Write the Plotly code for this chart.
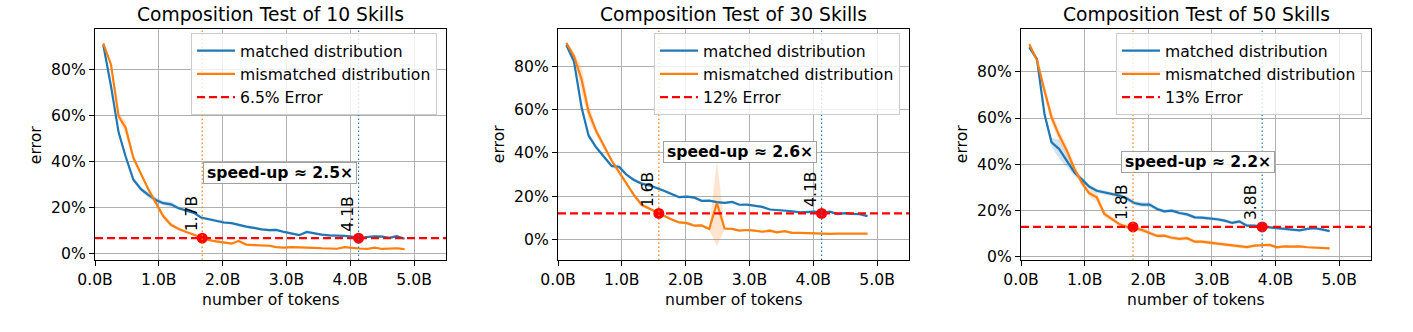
import numpy as np
import plotly.graph_objects as go

# ---------------- data ----------------
tokens_b = [0.13, 0.25, 0.37, 0.48, 0.60, 0.72, 0.84, 0.96, 1.07, 1.19,
            1.31, 1.43, 1.55, 1.66, 1.78, 1.90, 2.02, 2.14, 2.25, 2.37,
            2.49, 2.61, 2.73, 2.84, 2.96, 3.08, 3.20, 3.32, 3.43, 3.55,
            3.67, 3.79, 3.91, 4.02, 4.14, 4.26, 4.38, 4.50, 4.61, 4.73, 4.85]

skills = [10, 30, 50]

# error in percent
matched_10 = [90.5, 72.7, 52.5, 42, 32, 27.8, 25.2, 23, 21.7, 21.2,
              19.5, 18.5, 17.5, 15.5, 14.8, 14, 13.3, 13, 12.2, 11.5,
              11, 10.3, 10, 10.1, 9.2, 8.6, 7.8, 9.2, 8.5, 8,
              7.7, 7.7, 7.5, 7.2, 6.5, 7, 7.3, 7.2, 6.6, 7.4, 6.2]
mismatched_10 = [91.2, 82, 59.5, 54.5, 41.5, 34.5, 27.5, 21.5, 16, 12.3,
                 10.5, 9.2, 8, 6.7, 5.7, 5.1, 4.6, 4.1, 5.3, 3.7,
                 3.5, 3.4, 3.2, 2.6, 2.4, 2.6, 2.6, 2.5, 2.3, 2.1,
                 1.9, 1.9, 2.6, 2.2, 2.0, 1.8, 2.4, 1.8, 1.8, 2.1, 1.7]
matched_30 = [90, 82.5, 61, 48, 42.5, 38, 34, 33.5, 30, 27.5,
              25.8, 25, 23.8, 22.5, 21, 19.5, 19.8, 19.3, 17.8, 17.9,
              17.2, 16.9, 17.3, 16, 16.1, 15.5, 15, 13.8, 13.6, 13.3,
              13, 12.5, 12.5, 12.8, 12.3, 12.8, 11.7, 12.1, 11.8, 11.6, 10.7]
mismatched_30 = [91, 85, 74, 59, 50, 43, 36.5, 31, 26, 20.5,
                 16, 14.2, 12.5, 11, 9.2, 7.8, 7.5, 6.3, 6.4, 4.8,
                 16.8, 5.0, 4.8, 4.0, 4.3, 4.0, 3.5, 4.0, 3.2, 3.8,
                 3.0, 3.0, 2.8, 2.6, 2.5, 2.5, 2.6, 2.6, 2.7, 2.6, 2.6]
matched_50 = [90.5, 85.5, 61.5, 49.5, 46.6, 41.6, 36.5, 33.4, 30.4, 28.6,
              27.9, 27.2, 26.5, 25.3, 23.3, 22.6, 22.6, 20.7, 19.7, 20,
              19, 18.4, 17.1, 17, 16.7, 16.3, 15.7, 14.7, 15.4, 13.5,
              13.5, 13, 12.8, 12.5, 12.2, 11.8, 11.5, 12.1, 12.4, 11.9, 11.2]
mismatched_50 = [91.9, 85, 71.8, 60.3, 52.4, 45.9, 38, 31.9, 27.6, 25.8,
                 18.6, 16.4, 14.1, 13, 12.4, 11.7, 10.4, 9.1, 9.2, 8.3,
                 7.8, 8.1, 6.6, 6.6, 6.2, 5.8, 5.5, 5, 4.7, 4.3,
                 4.9, 5.2, 5.2, 4.2, 4.6, 4.5, 4.6, 4.2, 4, 3.9, 3.7]

# standard deviation (percent) -> shaded bands
matched_10_std = [0.5, 1.0, 1.0, 1.0, 1.0, 1.0, 1.2, 1.2, 1.0, 1.2,
                  0.8, 0.6, 0.6, 0.6, 0.6, 0.6, 0.6, 0.5, 0.6, 0.6,
                  0.6, 0.5, 0.6, 0.6, 0.5, 0.5, 0.5, 0.6, 0.5, 0.5,
                  0.5, 0.4, 0.4, 0.4, 0.4, 0.5, 0.4, 0.4, 0.4, 0.5, 0.4]
mismatched_10_std = [0.5, 0.8, 1.5, 3.0, 1.5, 1.2, 1.0, 1.2, 1.2, 1.0,
                     0.8, 0.6, 0.6, 0.5, 0.5, 0.5, 0.5, 0.5, 0.4, 0.4,
                     0.5, 0.4, 0.4, 0.4, 0.4, 0.4, 0.4, 0.4, 0.4, 0.3,
                     0.3, 0.3, 0.4, 0.3, 0.3, 0.3, 0.3, 0.3, 0.3, 0.3, 0.3]
matched_30_std = [0.5, 2.0, 1.5, 1.2, 0.8, 0.8, 0.8, 1.2, 0.8, 0.8,
                  0.7, 0.7, 0.7, 0.6, 0.6, 0.6, 0.6, 0.6, 0.5, 0.5,
                  0.5, 0.5, 0.5, 0.5, 0.5, 0.5, 0.5, 0.5, 0.5, 0.5,
                  0.5, 0.5, 0.5, 0.5, 0.5, 0.6, 0.5, 0.5, 0.5, 0.5, 0.5]
mismatched_30_std = [0.5, 1.5, 6.0, 4.0, 2.0, 1.5, 1.2, 1.0, 1.0, 0.8,
                     0.8, 0.8, 0.8, 0.6, 0.6, 0.6, 0.8, 0.8, 0.6, 0.5,
                     20.0, 0.5, 0.6, 0.5, 0.5, 0.5, 0.5, 1.0, 0.5, 0.5,
                     0.4, 0.4, 0.4, 0.4, 0.4, 0.4, 0.3, 0.3, 0.3, 0.3, 0.3]
matched_50_std = [0.8, 1.0, 1.5, 2.0, 4.0, 3.0, 1.5, 1.0, 1.0, 1.0,
                  0.8, 0.8, 0.8, 1.0, 1.0, 1.0, 1.0, 0.8, 0.8, 0.8,
                  0.8, 0.8, 0.8, 0.8, 0.8, 0.8, 0.8, 0.8, 0.8, 0.8,
                  0.6, 0.6, 0.6, 0.6, 0.6, 0.6, 0.5, 0.5, 0.5, 0.5, 0.5]
mismatched_50_std = [1.0, 1.5, 2.5, 2.5, 2.5, 2.5, 2.0, 1.5, 1.5, 2.0,
                     1.5, 1.0, 1.0, 1.0, 1.0, 1.0, 1.0, 0.8, 0.8, 0.8,
                     0.8, 0.8, 0.8, 0.8, 1.0, 0.8, 0.8, 0.8, 0.8, 0.8,
                     0.6, 0.6, 0.6, 0.6, 0.6, 0.6, 0.5, 0.5, 0.5, 0.5, 0.5]

error_thresholds = [6.5, 12, 13]          # percent
threshold_labels = ["6.5% Error", "12% Error", "13% Error"]
cross_mismatched = [1.68, 1.58, 1.76]     # billions of tokens
cross_matched = [4.13, 4.13, 3.79]
speedup_text_y = [34.8, 40.6, 41.2]       # percent
y_ranges = [(-3.0, 97.3), (-9.6, 97.3), (-1.3, 98.3)]

# ---------------- style / layout ----------------
W, H = 1413, 332
FONT = "DejaVu Sans"
FS, FS_TITLE = 15.6, 18.7
BLUE, ORANGE, RED = "#1f77b4", "#ff7f0e", "#ff0000"
BLUE_FILL, ORANGE_FILL = "rgba(31,119,180,0.2)", "rgba(255,127,14,0.2)"

panel_px = [(95, 446), (558, 909), (1021, 1371)]
top_px, bottom_px = 29.3, 260
ydom = [1 - bottom_px / H, 1 - top_px / H]

panels = [
    (matched_10, matched_10_std, mismatched_10, mismatched_10_std),
    (matched_30, matched_30_std, mismatched_30, mismatched_30_std),
    (matched_50, matched_50_std, mismatched_50, mismatched_50_std),
]

fig = go.Figure()
x = np.array(tokens_b)
layout = dict(width=W, height=H, margin=dict(l=0, r=0, t=0, b=0, pad=0),
              paper_bgcolor="white", plot_bgcolor="white",
              font=dict(family=FONT, size=FS, color="black"),
              showlegend=True)
shapes, annotations = [], []
tickfont = dict(size=FS, family=FONT, color="black")

for i, (m, ms, mm, mms) in enumerate(panels):
    k = "" if i == 0 else str(i + 1)
    xa, ya = "x" + k, "y" + k
    leg = "legend" + k
    x0p, x1p = panel_px[i]

    layout["xaxis" + k] = dict(
        domain=[x0p / W, x1p / W], anchor=ya, range=[0, 5.5], automargin=False,
        tick0=0, dtick=1, tickformat=".1f", ticksuffix="B",
        showgrid=True, gridcolor="#b0b0b0", gridwidth=1.2,
        showline=True, mirror=True, linecolor="black", linewidth=1.3,
        ticks="outside", ticklen=5, tickwidth=1.2, tickcolor="black",
        zeroline=False, tickfont=tickfont)
    ymin, ymax = y_ranges[i]
    layout["yaxis" + k] = dict(
        domain=ydom, anchor=xa, range=[ymin / 100, ymax / 100], automargin=False,
        tick0=0, dtick=0.2, tickformat=".0%",
        showgrid=True, gridcolor="#b0b0b0", gridwidth=1.2,
        showline=True, mirror=True, linecolor="black", linewidth=1.3,
        ticks="outside", ticklen=5, tickwidth=1.2, tickcolor="black",
        zeroline=False, tickfont=tickfont)

    # legend box for this panel
    layout[leg] = dict(
        x=(x1p - 9) / W, xanchor="right", y=1 - 33 / H, yanchor="top",
        bgcolor="rgba(255,255,255,0.8)", bordercolor="#cccccc", borderwidth=1,
        font=dict(size=FS, family=FONT, color="black"), itemwidth=38,
        tracegroupgap=0)

    # shaded std bands
    for mean, std, fc in ((m, ms, BLUE_FILL), (mm, mms, ORANGE_FILL)):
        mean = np.array(mean) / 100
        std = np.array(std) / 100
        upper, lower = mean + std, mean - std
        fig.add_trace(go.Scatter(
            x=np.concatenate([x, x[::-1]]), y=np.concatenate([upper, lower[::-1]]),
            fill="toself", fillcolor=fc, line=dict(width=0), mode="lines",
            hoverinfo="skip", showlegend=False, xaxis=xa, yaxis=ya))

    # mean curves
    fig.add_trace(go.Scatter(x=x, y=np.array(m) / 100, mode="lines",
                             line=dict(color=BLUE, width=2.2),
                             name="matched distribution", legend=leg,
                             legendrank=1, xaxis=xa, yaxis=ya))
    fig.add_trace(go.Scatter(x=x, y=np.array(mm) / 100, mode="lines",
                             line=dict(color=ORANGE, width=2.2),
                             name="mismatched distribution", legend=leg,
                             legendrank=2, xaxis=xa, yaxis=ya))

    thr = error_thresholds[i] / 100
    cm, cb = cross_mismatched[i], cross_matched[i]

    # vertical dotted markers
    for cx, col in ((cm, ORANGE), (cb, BLUE)):
        shapes.append(dict(type="line", xref=xa, yref=ya + " domain",
                           x0=cx, x1=cx, y0=0, y1=1, layer="above",
                           line=dict(color=col, width=1.2, dash="1.5px,2.5px")))
    # threshold line (in legend)
    shapes.append(dict(type="line", xref=xa + " domain", yref=ya,
                       x0=0, x1=1, y0=thr, y1=thr, layer="above",
                       line=dict(color=RED, width=2.2, dash="8px,4px"),
                       showlegend=True, name=threshold_labels[i],
                       legend=leg, legendrank=3))

    # crossing points
    fig.add_trace(go.Scatter(x=[cm, cb], y=[thr, thr], mode="markers",
                             marker=dict(color=RED, size=11),
                             showlegend=False, hoverinfo="skip",
                             xaxis=xa, yaxis=ya))

    # rotated crossing labels
    for cx in (cm, cb):
        annotations.append(dict(
            x=cx, y=thr, xref=xa, yref=ya, text=f"{cx:.1f}B",
            textangle=-90, showarrow=False, xanchor="center", yanchor="middle",
            xshift=-10.5, yshift=24.5, font=dict(size=FS, family=FONT, color="black")))

    # speed-up box
    annotations.append(dict(
        x=(cm + cb) / 2, y=speedup_text_y[i] / 100, xref=xa, yref=ya,
        text=f"<b>speed-up ≈ {cb / cm:.1f}×</b>", showarrow=False,
        xanchor="center", yanchor="middle", width=152, height=20,
        bgcolor="rgba(255,255,255,0.85)", bordercolor="#a0a0a0",
        borderwidth=1, borderpad=0,
        font=dict(size=FS, family=FONT, color="black")))

    # title and axis labels
    annotations.append(dict(
        x=0.5, y=1, xref=xa + " domain", yref=ya + " domain",
        text=f"Composition Test of {skills[i]} Skills", showarrow=False,
        xanchor="center", yanchor="middle", yshift=15.3,
        font=dict(size=FS_TITLE, family=FONT, color="black")))
    annotations.append(dict(
        x=0.5, y=0, xref=xa + " domain", yref=ya + " domain",
        text="number of tokens", showarrow=False,
        xanchor="center", yanchor="middle", yshift=-40,
        font=dict(size=FS, family=FONT, color="black")))
    annotations.append(dict(
        x=0, y=0.5, xref=xa + " domain", yref=ya + " domain",
        text="error", showarrow=False, textangle=-90,
        xanchor="center", yanchor="middle", xshift=-59.5,
        font=dict(size=FS, family=FONT, color="black")))

layout["shapes"] = shapes
layout["annotations"] = annotations
fig.update_layout(**layout)
fig.write_html("out.html")
